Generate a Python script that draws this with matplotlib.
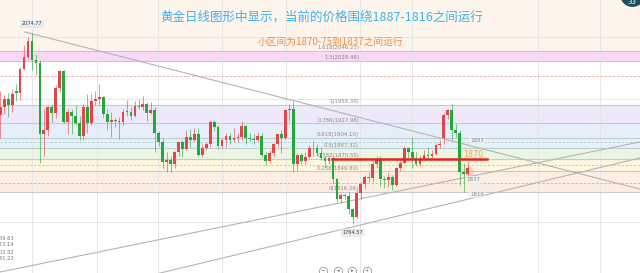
import matplotlib
matplotlib.use("Agg")
import matplotlib.pyplot as plt

plt.rcParams['font.family'] = ['Noto Sans CJK SC', 'DejaVu Sans']

# daily gold candles, 2020-07-28 .. 2021-01-12 (weekdays, holidays skipped)
opens = [1941, 1955, 1968, 1958, 1981, 1977, 2017, 2036, 2061, 2031,
         2026, 1911, 1917, 1954, 1944, 1985, 2013, 1930, 1946, 1940,
         1928, 1907, 1954, 1929, 1964, 1968, 1970, 1943, 1930, 1933,
         1932, 1930, 1947, 1946, 1940, 1956, 1954, 1960, 1944, 1950,
         1912, 1898, 1865, 1868, 1862, 1881, 1897, 1886, 1906, 1900,
         1911, 1877, 1888, 1894, 1930, 1922, 1891, 1901, 1908, 1900,
         1904, 1906, 1924, 1904, 1902, 1901, 1908, 1876, 1867, 1879,
         1894, 1910, 1904, 1949, 1951, 1862, 1877, 1866, 1873, 1888,
         1887, 1880, 1872, 1866, 1871, 1837, 1805, 1811, 1810, 1788,
         1776, 1815, 1830, 1841, 1839, 1862, 1870, 1838, 1836, 1840,
         1828, 1855, 1864, 1887, 1881, 1872, 1861, 1870, 1876, 1874,
         1878, 1893, 1904, 1942, 1949, 1917, 1912, 1849, 1845]
closes = [1955, 1968, 1958, 1975, 1977, 2017, 2036, 2061, 2031, 2026,
          1911, 1917, 1954, 1944, 1985, 2013, 1930, 1946, 1940, 1928,
          1907, 1954, 1929, 1964, 1968, 1970, 1943, 1930, 1933, 1932,
          1930, 1947, 1946, 1940, 1956, 1954, 1960, 1944, 1950, 1912,
          1898, 1865, 1868, 1862, 1881, 1897, 1886, 1906, 1900, 1911,
          1877, 1888, 1894, 1930, 1922, 1891, 1901, 1908, 1900, 1904,
          1906, 1924, 1904, 1902, 1901, 1908, 1876, 1867, 1879, 1894,
          1910, 1904, 1949, 1951, 1862, 1877, 1866, 1873, 1888, 1887,
          1880, 1872, 1866, 1871, 1837, 1805, 1811, 1810, 1788, 1776,
          1815, 1830, 1841, 1839, 1862, 1870, 1838, 1836, 1840, 1828,
          1855, 1864, 1887, 1881, 1872, 1861, 1870, 1876, 1874, 1878,
          1893, 1895, 1942, 1949, 1917, 1912, 1849, 1845, 1855]
highs = [1981, 1974, 1977, 1984, 1992, 2020, 2055, 2069, 2074.77, 2040,
         2031, 1951, 1956, 1960, 1990, 2015, 2015, 1952, 1951, 1958,
         1940, 1960, 1975, 1976, 1980, 1992, 1973, 1952, 1946, 1937,
         1938, 1951, 1966, 1954, 1965, 1967, 1973, 1963, 1962, 1954,
         1916, 1904, 1881, 1875, 1883, 1898, 1901, 1917, 1918, 1920,
         1921, 1894, 1898, 1933, 1933, 1926, 1904, 1913, 1913, 1921,
         1912, 1931, 1925, 1912, 1911, 1914, 1912, 1881, 1885, 1896,
         1911, 1917, 1951, 1960, 1965, 1880, 1880, 1881, 1892, 1899,
         1894, 1890, 1875, 1875, 1875, 1839, 1815, 1815, 1816, 1790,
         1820, 1832, 1844, 1849, 1866, 1875, 1875, 1843, 1848, 1844,
         1857, 1867, 1891, 1890, 1906, 1882, 1876, 1884, 1889, 1884,
         1896, 1900, 1945, 1952, 1959, 1927, 1917, 1864, 1865]
lows = [1904, 1943, 1939, 1947, 1964, 1966, 2015, 2033, 2014, 2007,
        1863, 1874, 1908, 1930, 1937, 1979, 1928, 1911, 1911, 1926,
        1901, 1900, 1912, 1925, 1958, 1957, 1936, 1917, 1906, 1922,
        1902, 1925, 1940, 1933, 1938, 1951, 1950, 1931, 1943, 1882,
        1891, 1855, 1848, 1849, 1855, 1874, 1873, 1884, 1889, 1897,
        1875, 1873, 1884, 1889, 1915, 1886, 1888, 1890, 1894, 1897,
        1897, 1901, 1895, 1899, 1895, 1898, 1873, 1860, 1864, 1873,
        1889, 1880, 1903, 1932, 1848, 1851, 1862, 1861, 1872, 1875,
        1875, 1868, 1855, 1862, 1830, 1800, 1799, 1805, 1781, 1764.57,
        1774, 1805, 1821, 1833, 1833, 1856, 1826, 1823, 1825, 1820,
        1826, 1851, 1862, 1872, 1855, 1859, 1858, 1868, 1870, 1870,
        1876, 1887, 1895, 1935, 1901, 1905, 1828, 1816.26, 1840]

fib_ratios = ['1.618', '1.5', '1', '0.786', '0.618', '0.5', '0.382', '0.236', '0']
fib_prices = [2046.23, 2029.46, 1958.39, 1927.98, 1904.10, 1887.32, 1870.55, 1849.80, 1816.26]
# fills between consecutive levels (top band = above 1.618)
band_colors = ['#f9d8f5', '#ffffff', '#efe8fb', '#e6eefb', '#e0f3f7', '#eaf6e4', '#fdf7df', '#fdeee3']
top_band_color = '#fdf4ec'

dashed_prices = [2004.9, 1897.6, 1860.2, 1830.9]
dashed_colors = ['#f2a0a0', '#b9c9d8', '#e9bb90', '#eaa98a']

grid_x = [8, 24.4, 39.8, 56, 72.2, 90.8, 104, 135.8, 151.4]
grid_y = [1768, 1968, 2068]

# trend lines (candle index, price)
down_line = ([6.2, 161.5], [2076.4, 1821.1])
up_line_a = ([-0.1, 161.5], [1686.2, 1897.6])
up_line_b = ([40.0, 161.5], [1684.0, 1871.6])

key_line = ([83.8, 122.9], [1870, 1870])

title = '黄金日线图形中显示，当前的价格围绕1887-1816之间运行'
subtitle = '小区间为1870-75到1837之间运行'
side_labels = ['1887', '1870', '1837', '1816']
side_levels = [1887.32, 1870, 1837, 1816.26]
corner_values = ['1869.63', '1873.14', '1902.52', '1941.22']

fig = plt.figure(figsize=(6.4, 2.73), dpi=100)
ax = fig.add_axes([0, 0, 1, 1])
ax.set_xlim(-0.076, 161.54)
ax.set_ylim(1684.6, 2128.4)
ax.set_axis_off()

# fib bands
ax.axhspan(fib_prices[0], 2128.4, color=top_band_color, zorder=0, lw=0)
for k in range(len(fib_prices) - 1):
    ax.axhspan(fib_prices[k + 1], fib_prices[k], color=band_colors[k], zorder=0, lw=0)
for k, p in enumerate(fib_prices):
    c = '#e2b8de' if k < 2 else '#c9c9d2'
    ax.axhline(p, color=c, lw=0.8, zorder=1)
for p, c in zip(dashed_prices, dashed_colors):
    ax.axhline(p, color=c, lw=0.6, ls=(0, (3, 2)), zorder=1)

for gx in grid_x:
    ax.axvline(gx, color='#e6e6e6', lw=0.7, zorder=0.5)
for gy in grid_y:
    ax.axhline(gy, color='#e6e6e6', lw=0.7, zorder=0.5)

# fib labels
for r, p in zip(fib_ratios, fib_prices):
    ax.text(90.6, p + 1.0, f'{r}({p:.2f})', fontsize=3.9, color='#8a8a8a',
            ha='right', va='bottom', family='DejaVu Sans', zorder=2)

# trend lines
for xs, ys in (down_line, up_line_a, up_line_b):
    ax.plot(xs, ys, color='#b4b4b4', lw=0.8, zorder=2)

# candles (red = up, green = down)
up_c, dn_c = '#e5444a', '#23a83a'
for i in range(len(opens)):
    o, c, h, l = opens[i], closes[i], highs[i], lows[i]
    col = up_c if c >= o else dn_c
    ax.vlines(i, l, h, color=col, lw=0.6, alpha=0.7, zorder=3)
    bot = min(o, c)
    hgt = max(abs(c - o), 1.4)
    ax.bar(i, hgt, bottom=bot, width=0.7, color=col, lw=0, zorder=4)

last = len(opens) - 1
ax.scatter([last], [closes[last] - 4], s=70, color='#ff6060', alpha=0.18, lw=0, zorder=3)

# key level
ax.plot(*key_line, color='#e8221c', lw=1.8, zorder=5)

# peak / trough labels
box = dict(boxstyle='round,pad=0.3', fc='#e8eaed', ec='none')
ax.annotate('2074.77', xy=(8, 2074.77), xytext=(0, 6.5), textcoords='offset points',
            ha='center', va='center', fontsize=3.6, color='#444444', bbox=box,
            family='DejaVu Sans', zorder=6)
ax.annotate('1764.57', xy=(89, 1764.57), xytext=(0, -6.5), textcoords='offset points',
            ha='center', va='center', fontsize=3.6, color='#444444', bbox=box,
            family='DejaVu Sans', zorder=6)

# side labels
offs = [5.8, 2.9, -0.5, -1.5]
xs_lab = [118.6, 116.8, 117.6, 118.6]
for t, p, dy, xl in zip(side_labels, side_levels, offs, xs_lab):
    if t == '1870':
        ax.annotate(t, xy=(xl, p), xytext=(0, dy), textcoords='offset points', ha='left',
                    va='center', fontsize=5.8, color='#f0a043', family='DejaVu Sans', zorder=6)
    else:
        ax.annotate(t, xy=(xl, p), xytext=(0, dy), textcoords='offset points', ha='left',
                    va='center', fontsize=4.0, color='#8c8c8c', family='DejaVu Sans', zorder=6,
                    bbox=dict(boxstyle='square,pad=0.25', fc='#f0f0f0', ec='none', alpha=0.8))

# titles
fig.text(0.503, 0.938, title, color='#3db4ea', fontsize=9, ha='center', va='center')
fig.text(0.516, 0.846, subtitle, color='#f28a3c', fontsize=7, ha='center', va='center')

# cut-off values at bottom left
for k, v in enumerate(corner_values):
    fig.text(14 / 640, 1 - (238 + 7 * k) / 273, v, fontsize=3.8, color='#7a7a7a',
             ha='right', va='center', family='DejaVu Sans')

# zoom buttons at bottom
btn_x = [323, 338, 352, 367]
btn_sym = ['−', '◂', '▸', '+']
for bx, sym in zip(btn_x, btn_sym):
    ax.scatter([bx / 640], [2 / 273], s=36, transform=ax.transAxes, facecolor='white',
               edgecolor='#9a9a9a', lw=0.6, zorder=7, clip_on=False)
    ax.text(bx / 640, 2 / 273, sym, transform=ax.transAxes, fontsize=3.5, color='#666666',
            ha='center', va='center', family='DejaVu Sans', zorder=8)

# badge top right
ax.scatter([632 / 640], [1 + 6 / 273], s=320, transform=ax.transAxes, color='#1e4f5c',
           lw=0, zorder=7, clip_on=False)
ax.text(632 / 640, 1 - 2 / 273, '33', transform=ax.transAxes, fontsize=5, color='white',
        ha='center', va='center', family='DejaVu Sans', zorder=8)

fig.savefig('out.png', dpi=100)
